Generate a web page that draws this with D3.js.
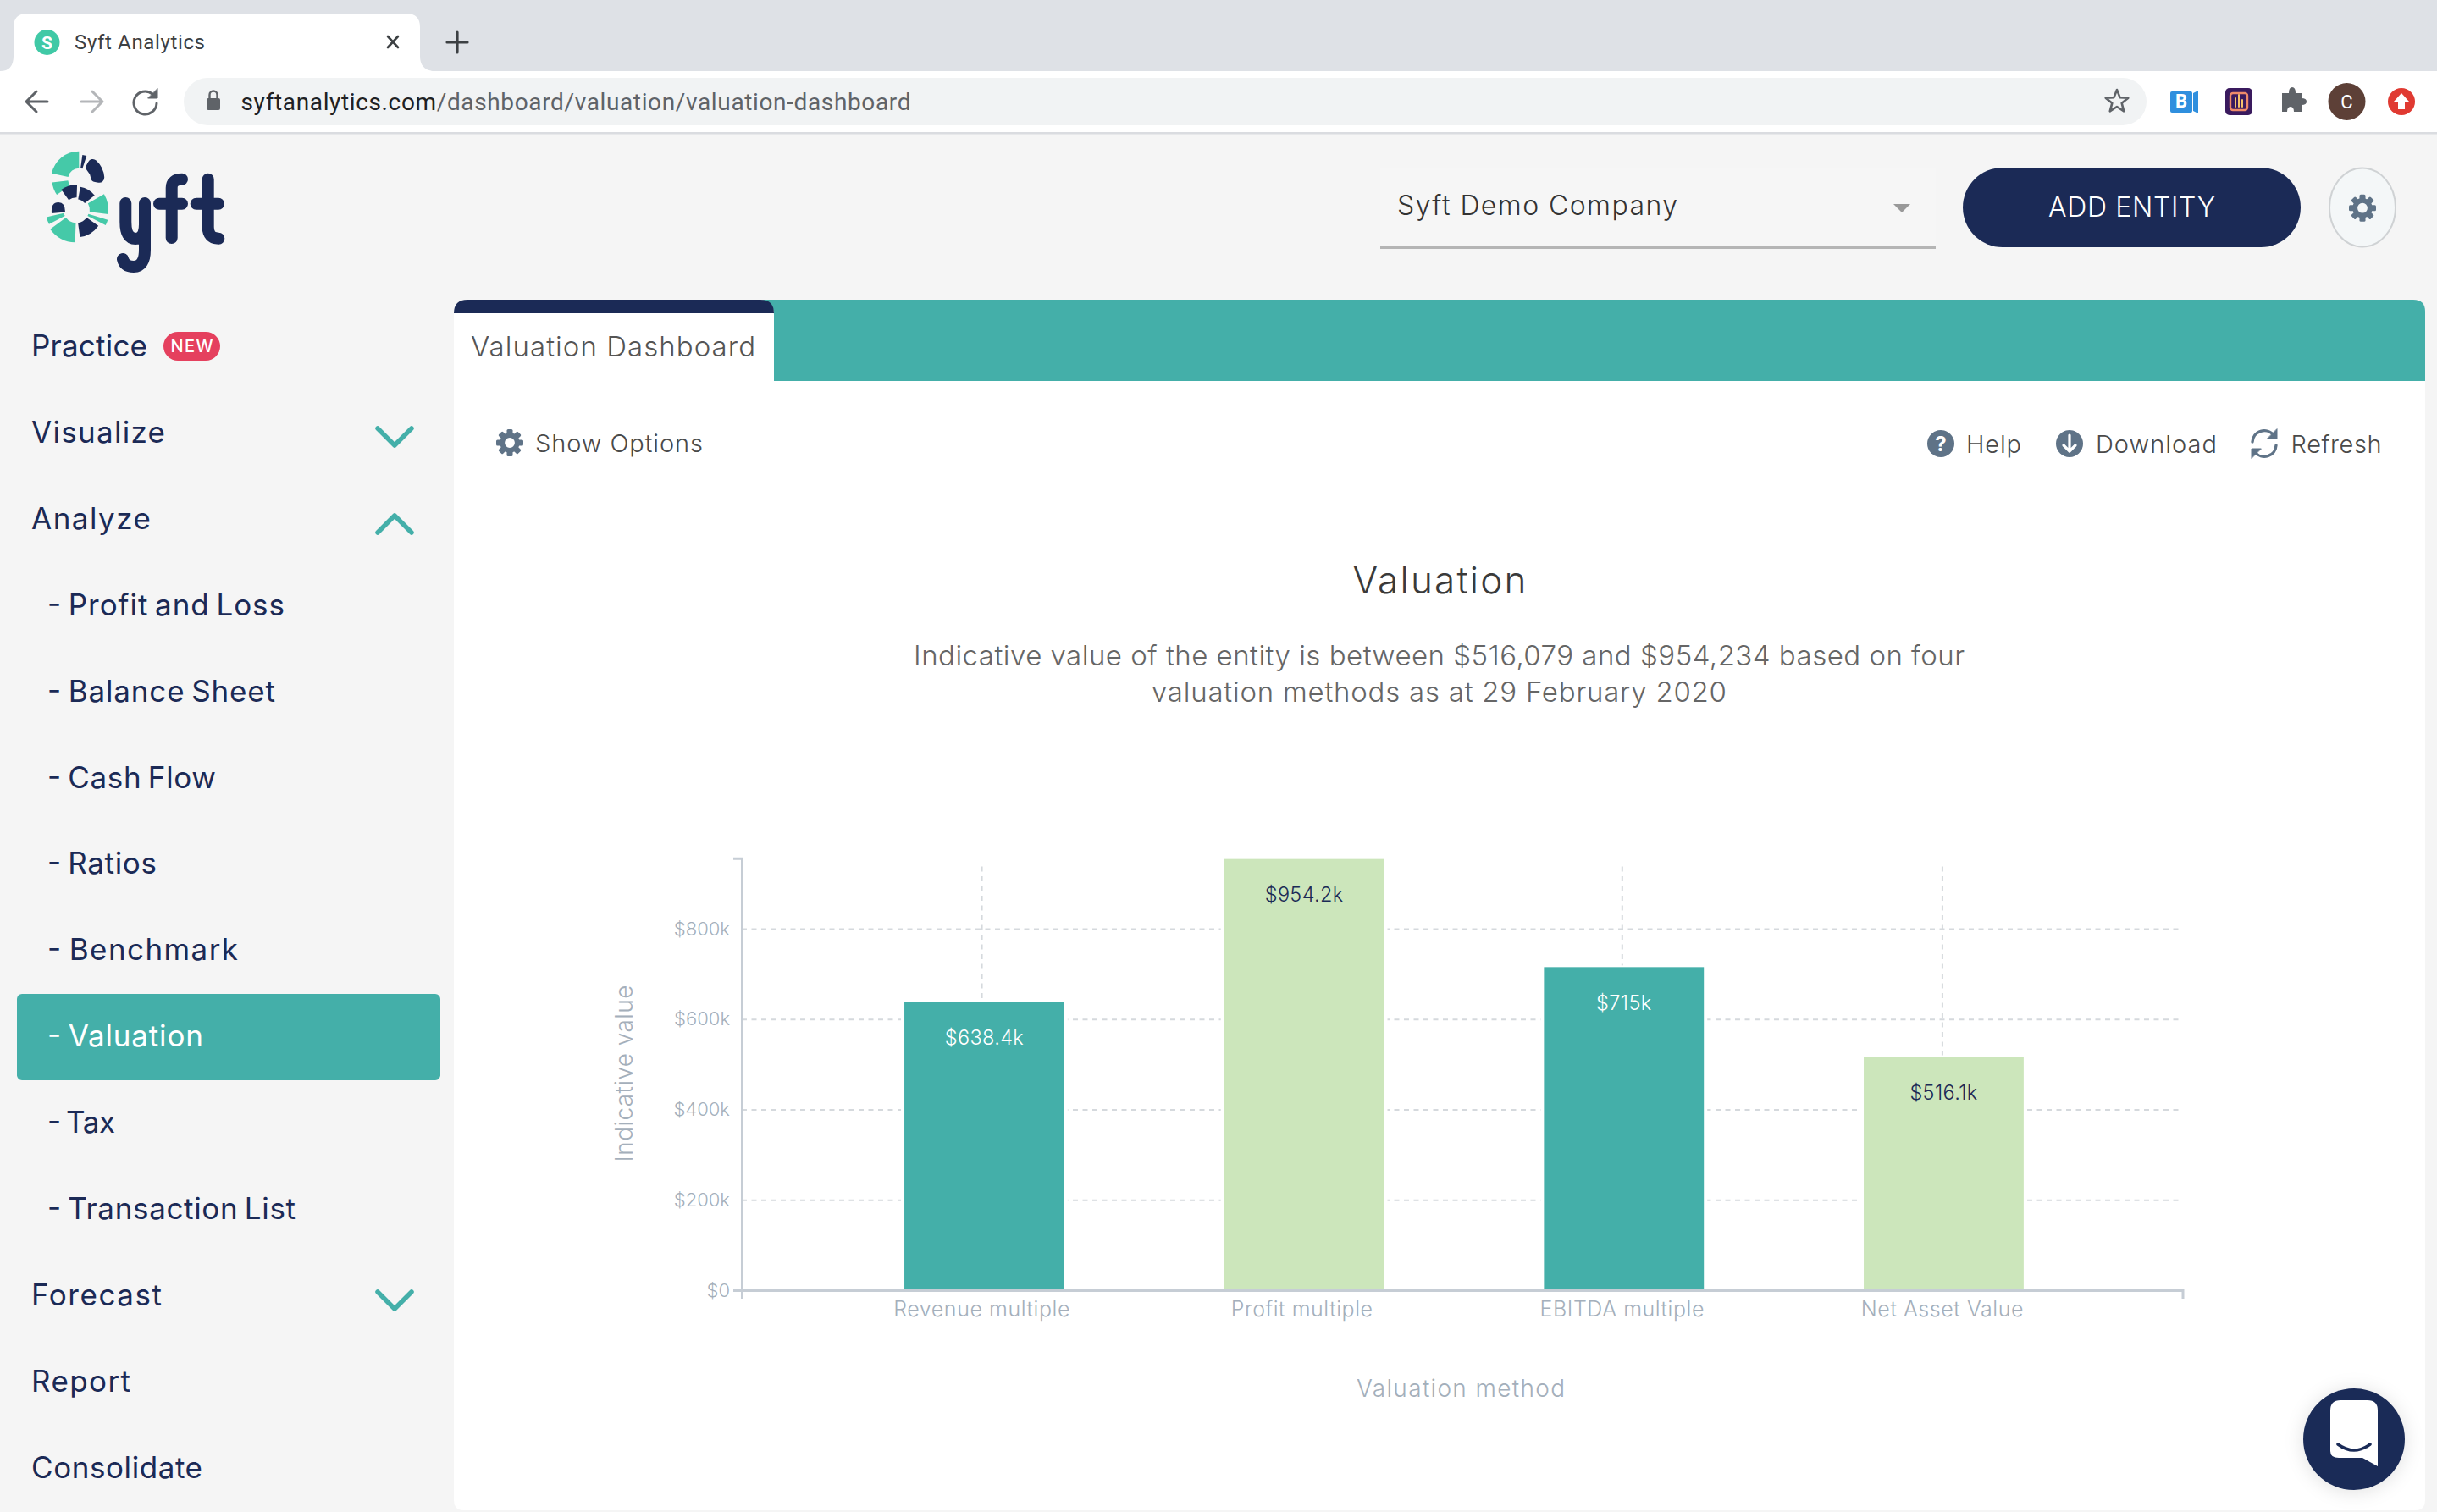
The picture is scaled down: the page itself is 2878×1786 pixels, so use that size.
<!DOCTYPE html>
<html><head><meta charset="utf-8">
<script src="https://cdnjs.cloudflare.com/ajax/libs/d3/7.8.5/d3.min.js"></script>
<style>html,body{margin:0;padding:0;background:#f5f5f5;overflow:hidden}svg{display:block}</style>
</head><body><svg id="c" width="2878" height="1786" viewBox="0 0 2878 1786"></svg>
<script>
// ---- chart data ----
const categories = ["Revenue multiple","Profit multiple","EBITDA multiple","Net Asset Value"];
const values = [638400, 954234, 715000, 516079];
const yTicks = [0,200000,400000,600000,800000];
const yDomainMax = 956000;
const titleText = "Valuation";
const subtitleLines = ["Indicative value of the entity is between $516,079 and $954,234 based on four","valuation methods as at 29 February 2020"];
const xTitleText = "Valuation method";
const yTitleText = "Indicative value";
// ---- page text ----
const navTop = ["Practice","Visualize","Analyze"];
const navSub = ["- Profit and Loss","- Balance Sheet","- Cash Flow","- Ratios","- Benchmark","- Valuation","- Tax","- Transaction List"];
const navBottom = ["Forecast","Report","Consolidate"];
// rendered text lengths of the nav entries, in the same order
const navTopLen = [137,158,141];
const navSubLen = [279,268,198,128,224,183,79,292];
const navBottomLen = [154,117,202];

const TEAL="#44afa9",GREEN="#cce6bb",NAVY="#1b2a56",UI="Inter, 'Noto Sans', sans-serif",CH="Roboto, sans-serif";
const svg=d3.select("#c");
function T(p,s,x,y,o={}){
  const t=p.append("text").text(s).attr("x",x).attr("y",y)
   .attr("font-family",o.fam||UI).attr("font-size",o.size||30).attr("font-weight",o.w||300)
   .attr("fill",o.fill||"#555").attr("text-anchor",o.a||"start");
  if(o.len){t.attr("textLength",o.len).attr("lengthAdjust","spacing");}
  if(o.ls!=null)t.attr("letter-spacing",o.ls);
  if(o.ws!=null)t.attr("word-spacing",o.ws);
  return t;
}
const R=(p,x,y,w,h,f,r=0)=>p.append("rect").attr("x",x).attr("y",y).attr("width",w).attr("height",h).attr("fill",f).attr("rx",r).attr("ry",r);
const P=(p,d,o={})=>p.append("path").attr("d",d).attr("fill",o.fill||"none").attr("stroke",o.s||"none").attr("stroke-width",o.sw||0).attr("stroke-linecap",o.cap||"round").attr("stroke-linejoin","round");
const C=(p,x,y,r,f)=>p.append("circle").attr("cx",x).attr("cy",y).attr("r",r).attr("fill",f);

// ---- browser chrome ----
const ch=svg.append("g");
R(ch,0,0,2878,84,"#dee1e6");
P(ch,"M0 84 Q16 84 16 66 L16 32 Q16 16 32 16 L480 16 Q496 16 496 32 L496 66 Q496 84 514 84 Z",{fill:"#fff"});
R(ch,0,84,2878,72,"#fff"); R(ch,0,156,2878,2.5,"#dadce0");
C(ch,55.5,50,15,"#40c9a6");
T(ch,"S",55.5,58,{fam:CH,size:21,w:700,fill:"#fff",a:"middle"});
T(ch,"Syft Analytics",88,58,{fam:CH,size:24,w:400,fill:"#3c4043",len:154});
P(ch,"M458 43 L470 56 M470 43 L458 56",{s:"#3c4043",sw:2.6});
P(ch,"M540 38 L540 62 M528 50 L552 50",{s:"#3c4043",sw:3.2});
P(ch,"M56 120 L32 120 M43 108 L31 120 L43 132",{s:"#5f6368",sw:3});
P(ch,"M96 120 L120 120 M109 108 L121 120 L109 132",{s:"#b4b6b9",sw:3});
P(ch,"M180 111 A13.5 13.5 0 1 0 185 122",{s:"#5f6368",sw:3});
P(ch,"M186 105 L186 116 L175 116 Z",{fill:"#5f6368",s:"#5f6368",sw:1});
R(ch,217,92,2318,56,"#f1f3f4",28);
R(ch,244,116,16,14,"#5f6368",2);
P(ch,"M247.5 116 L247.5 112 A4.5 4.5 0 0 1 256.5 112 L256.5 116",{s:"#5f6368",sw:2.4});
const url=T(ch,"syftanalytics.com",284.5,129.5,{fam:CH,size:28,w:400,fill:"#202124"});
url.append("tspan").text("/dashboard/valuation/valuation-dashboard").attr("fill","#5f6368");
url.attr("textLength",791).attr("lengthAdjust","spacing");
P(ch,d3.range(10).map(i=>{const r=i%2?6:14,a=i*Math.PI/5;return (i?"L":"M")+(2500+r*Math.sin(a))+" "+(120-r*Math.cos(a));}).join("")+"Z",{s:"#5f6368",sw:2.6});
R(ch,2563,108,26,25,"#2f8fde",2);
T(ch,"B",2576,127,{fam:CH,size:22,w:700,fill:"#fff",a:"middle"});
P(ch,"M2590 110 L2596 107 L2596 134 L2590 131 Z",{fill:"#2f8fde"});
R(ch,2628,104,32,32,"#3a1a5e",5);
R(ch,2634,110,20,20,"none",3).attr("stroke","#ef8a6a").attr("stroke-width",2.4);
P(ch,"M2640 116 L2640 126 M2644 112 L2644 126 M2648 118 L2648 126",{s:"#f6c26b",sw:2});
P(ch,"M2695 110 L2703 110 Q2703 103 2707 103 Q2711 103 2711 110 L2718 110 L2718 116 Q2724 116 2724 120 Q2724 124 2718 124 L2718 132 L2709 132 Q2709 126 2705 126 Q2701 126 2701 132 L2695 132 Z",{fill:"#5f6368"});
C(ch,2771.5,120,22,"#5d4037");
T(ch,"C",2771.5,128,{fam:CH,size:22,w:400,fill:"#fff",a:"middle"});
C(ch,2836,120,16,"#e03a32");
P(ch,"M2836 110 L2845 120 L2840 120 L2840 129 L2832 129 L2832 120 L2827 120 Z",{fill:"#fff"});

// ---- logo ----
const lg=svg.append("g");
const arc=(cx,cy,ri,ro,a,b,f,cr=0)=>lg.append("path").attr("transform",`translate(${cx},${cy})`).attr("fill",f)
 .attr("d",d3.arc().innerRadius(ri).outerRadius(ro).startAngle(a*Math.PI/180).endAngle(b*Math.PI/180).cornerRadius(cr)());
const LT="#45c9a8",LN="#1b2a56";
// upper ring
arc(93.3,211.7,13,33,-78,0,LT);
arc(93.3,211.7,13,32,-125,-97,LT);
arc(93.3,211.7,13,29,8,18,LN);
arc(93.3,211.7,14,30,28,100,LN,6);
// lower ring
arc(90,248.3,15,30,-36,2,LN);
arc(90,248.3,13,28,10,51,LN);
arc(90,248.3,16,38,60,97,LT);
arc(90,248.3,15,39,107,117,LT);
arc(90,248.3,15,32,125,172,LN);
arc(90,248.3,15,38,182,234,LT);
arc(90,248.3,15,36,243,257,LT);
P(lg,"M61 252 L77 250.5 Q77 239 69 239 Q60 239 61 252 Z",{fill:LN});
P(lg,"M148.3 240 L148.3 262 Q148.3 282 160 282 Q171 282 171 265 M171 240 L171 295 Q171 315 158 315 Q147 315 145 306",{s:LN,sw:14});
P(lg,"M202.7 281 L202.7 222 Q202.7 211.7 215 211.7 M188 240.7 L215 240.7",{s:LN,sw:14});
P(lg,"M245.7 211.7 L245.7 268 Q245.7 281.7 258.3 281.7 M231.7 240.7 L258 240.7",{s:LN,sw:14});

// ---- nav ----
const nav=svg.append("g");
R(nav,20,1174,500,102,TEAL,6);
const navY=i=>408+i*101.9+13;
const NAVF={size:35,w:400,fill:NAVY};
navTop.forEach((s,i)=>T(nav,s,37,navY(i),{...NAVF,len:navTopLen[i]}));
navSub.forEach((s,i)=>T(nav,s,56,navY(i+3),{...NAVF,fill:s==="- Valuation"?"#fff":NAVY,len:navSubLen[i]+1,ws:-3}));
navBottom.forEach((s,i)=>T(nav,s,37,navY(i+11),{...NAVF,len:navBottomLen[i]}));
R(nav,193,392,67,34,"#e5405e",17);
T(nav,"NEW",226.5,416,{size:20,w:500,fill:"#fff",a:"middle",len:50});
const chev=(y,up)=>P(nav,up?`M446 ${y+10} L466 ${y-10} L486 ${y+10}`:`M446 ${y-10} L466 ${y+10} L486 ${y-10}`,{s:TEAL,sw:5.5});
chev(516,false);chev(619,true);chev(1536,false);

// ---- header ----
const hd=svg.append("g");
R(hd,1630,198,656,92,"#f6f6f6");R(hd,1630,290,656,4,"#b5b5b5");
T(hd,"Syft Demo Company",1650,254,{size:32,w:300,fill:"#333",len:331});
P(hd,"M2236 241 L2256 241 L2246 251 Z",{fill:"#999"});
R(hd,2318,198,399,94,NAVY,47);
T(hd,"ADD ENTITY",2419,256,{size:32,w:300,fill:"#fff",len:197});
hd.append("ellipse").attr("cx",2790).attr("cy",245).attr("rx",39).attr("ry",46.5).attr("fill","#f4f7f8").attr("stroke","#cfd2d4").attr("stroke-width",2);
function gear(p,x,y,r,f){
  const g=p.append("g").attr("transform",`translate(${x},${y})`);
  d3.range(8).forEach(i=>g.append("rect").attr("x",-r*.22).attr("y",-r).attr("width",r*.44).attr("height",r*.5).attr("rx",1.5).attr("fill",f).attr("transform",`rotate(${i*45})`));
  g.append("circle").attr("r",r*.55).attr("fill","none").attr("stroke",f).attr("stroke-width",r*.36);
}
gear(hd,2790,245.7,16,"#5f7387");

// ---- card ----
const card=svg.append("g");
P(card,"M536 450 L2864 450 L2864 1772 Q2864 1784 2852 1784 L548 1784 Q536 1784 536 1772 Z",{fill:"#fff"});
P(card,"M900 354 L2850 354 Q2864 354 2864 368 L2864 450 L900 450 Z",{fill:TEAL});
P(card,"M536 450 L536 372 Q536 354 554 354 L896 354 Q914 354 914 372 L914 450 Z",{fill:"#fff"});
P(card,"M536 370 Q536 354 552 354 L898 354 Q914 354 914 370 Z",{fill:NAVY});
T(card,"Valuation Dashboard",556,420.5,{size:33,w:300,fill:"#555",len:336});
const TB={size:29,w:300,fill:"#4a4a4a"};
gear(card,602,523,16,"#5f7387");
T(card,"Show Options",632,534,{...TB,len:198});
C(card,2292,524,16,"#5f7387");T(card,"?",2292,533,{size:24,w:700,fill:"#fff",a:"middle"});
T(card,"Help",2322,534.5,{...TB,len:65});
C(card,2444,524,16,"#5f7387");P(card,"M2444 514 L2444 532 M2437 526 L2444 533 L2451 526",{s:"#fff",sw:3.2});
T(card,"Download",2475,534.5,{...TB,len:143});
P(card,"M2660 522 A14 14 0 0 1 2685 514 M2688 526 A14 14 0 0 1 2663 534",{s:"#5f7387",sw:3.4});
P(card,"M2689 507 L2689 518 L2678 518 Z M2659 541 L2659 530 L2670 530 Z",{fill:"#5f7387",s:"#5f7387",sw:1});
T(card,"Refresh",2705.6,534.5,{...TB,len:107});

// ---- chart ----
const yScale=d3.scaleLinear().domain([0,yDomainMax]).range([1524,1013.7]);
const x=d3.scaleBand().domain(categories).range([876,2577.5]).padding(0.5);
const xBar=d3.scaleBand().domain(categories).range([879.2,2578.7]).padding(0.5);
const chart=svg.append("g");

T(chart,titleText,1700,701,{size:44,w:300,fill:"#3a3a3a",a:"middle",len:205});
subtitleLines.forEach((s,i)=>T(chart,s,1699.5,785.5+i*43,{size:33,w:300,fill:"#666",a:"middle",len:i?679:1241}));

// grids
const gy=chart.append("g").attr("transform",`translate(876,0)`)
 .call(d3.axisLeft(yScale).tickValues(yTicks).tickSize(-1698).tickFormat(""));
const gx=chart.append("g").attr("transform",`translate(0,1524)`)
 .call(d3.axisBottom(x).tickSize(-506).tickFormat(""));
[gy,gx].forEach(g=>{g.select(".domain").remove();g.selectAll("line").attr("stroke","#d5d9dd").attr("stroke-width",2).attr("stroke-dasharray","6,5.5");});

// bars
const bars=chart.append("g");
bars.selectAll("rect.halo").data(values).join("rect").attr("class","halo")
 .attr("x",(d,i)=>xBar(categories[i])-4).attr("width",xBar.bandwidth()+8)
 .attr("y",d=>yScale(d)-2).attr("height",d=>yScale(0)-yScale(d)+2).attr("fill","#fff");
bars.selectAll("rect.bar").data(values).join("rect").attr("class","bar")
 .attr("x",(d,i)=>xBar(categories[i])).attr("width",xBar.bandwidth())
 .attr("y",d=>yScale(d)).attr("height",d=>yScale(0)-yScale(d))
 .attr("fill",(d,i)=>i%2?GREEN:TEAL);
const fmt=d3.format("$.4~s");
bars.selectAll("text").data(values).join("text").text(fmt)
 .attr("x",(d,i)=>xBar(categories[i])+xBar.bandwidth()/2).attr("y",d=>yScale(d)+50.5)
 .attr("text-anchor","middle").attr("font-family",UI).attr("font-size",23.5).attr("font-weight",300)
 .attr("letter-spacing",0.35).attr("fill",(d,i)=>i%2?NAVY:"#fff");

// axes
const yAxis=chart.append("g").attr("transform","translate(876,0)")
 .call(d3.axisLeft(yScale).tickValues(yTicks).tickFormat(d3.format("$~s")).tickSizeInner(0).tickSizeOuter(10).tickPadding(14));
const xAxis=chart.append("g").attr("transform","translate(0,1524)")
 .call(d3.axisBottom(x).tickSizeInner(0).tickSizeOuter(10).tickPadding(13));
[yAxis,xAxis].forEach(g=>{
  g.select(".domain").attr("stroke","#c6cdd5").attr("stroke-width",3);
  g.selectAll("text").attr("font-family",UI).attr("font-weight",300).attr("fill","#a4afbb");
});
yAxis.selectAll("text").attr("font-size",22);
xAxis.selectAll("text").attr("font-size",25).attr("letter-spacing",0.55);
T(chart,xTitleText,1725,1650,{size:28,w:300,fill:"#a4afbb",a:"middle",len:246});
T(chart,yTitleText,0,0,{size:28,w:300,fill:"#a4afbb",a:"middle",len:209}).attr("transform","translate(747,1268) rotate(-90)");

// ---- chat bubble ----
const cb=svg.append("g");
svg.append("defs").html('<filter id="sh" x="-30%" y="-30%" width="160%" height="160%"><feGaussianBlur stdDeviation="10"/></filter>');
C(cb,2780,1702,62,"rgba(0,0,0,.10)").attr("filter","url(#sh)");
C(cb,2780,1700,60,"#1a2b57");
P(cb,"M2752 1666 Q2752 1654 2764 1654 L2796 1654 Q2808 1654 2808 1666 L2808 1732 L2790 1722 L2762 1722 Q2752 1722 2752 1714 Z",{fill:"#fff"});
P(cb,"M2761 1706 Q2780 1720 2799 1706",{s:"#1a2b57",sw:3.5});
</script></body></html>
